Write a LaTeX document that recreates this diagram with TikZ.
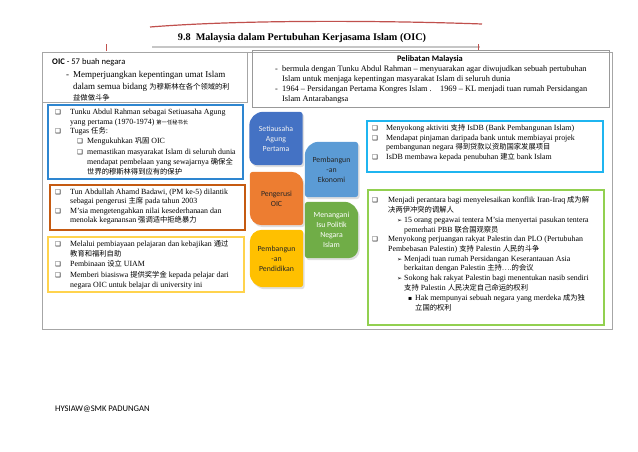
\documentclass[tikz,border=0pt]{standalone}
\usepackage{fontspec}
\setmainfont{Liberation Serif}
\setsansfont{Carlito}
\newfontfamily\zhfont{Noto Sans CJK SC}
\newfontfamily\symfont{DejaVu Sans}
\newcommand\zh[1]{{\zhfont\fontsize{7.3}{8}\selectfont #1}}
\newcommand\zhs[1]{{\zhfont\fontsize{5.3}{6}\selectfont #1}}
\usetikzlibrary{backgrounds,shadows}
\definecolor{cSec}{HTML}{4472C4}
\definecolor{cEko}{HTML}{5B9BD5}
\definecolor{cPen}{HTML}{ED7D31}
\definecolor{cPol}{HTML}{70AD47}
\definecolor{cEdu}{HTML}{FFC000}
\definecolor{bBlue}{HTML}{2E86D0}
\definecolor{bOrange}{HTML}{C55A11}
\definecolor{bYellow}{HTML}{FFD34D}
\definecolor{bCyan}{HTML}{1FB5F0}
\definecolor{bGreen}{HTML}{92D050}
\definecolor{fGray}{HTML}{A6A6A6}
\definecolor{tRed}{HTML}{C0504D}
\newcommand\leaffill[6]{\fill[#2, drop shadow={opacity=0.25,shadow xshift=1.5pt,shadow yshift=-2pt}] (#1.west) [rounded corners=#3] -- (#1.north west) -- (#1.north) [rounded corners=#4] -- (#1.north east) -- (#1.east) [rounded corners=#5] -- (#1.south east) -- (#1.south) [rounded corners=#6] -- (#1.south west) -- cycle;}
\begin{document}
\begin{tikzpicture}[x=1pt,y=-1pt,
  txt/.style={anchor=base west, inner sep=0pt, font=\fontsize{7.9}{9}\selectfont},
  bigtxt/.style={anchor=base west, inner sep=0pt, font=\fontsize{9}{10}\selectfont},
  peltxt/.style={anchor=base west, inner sep=0pt, font=\fontsize{8.3}{9}\selectfont},
  cbx/.style={anchor=base west, inner sep=0pt, font=\symfont\fontsize{6.5}{7}\selectfont},
  arrx/.style={anchor=base west, inner sep=0pt, font=\symfont\fontsize{6}{7}\selectfont},
  leaf/.style={minimum width=53pt, inner sep=1pt, align=center, font=\sffamily\fontsize{7.8}{10}\selectfont},
  frame/.style={draw=fGray, line width=0.9pt},
  boxline/.style={line width=1.4pt}]
\useasboundingbox (0,0) rectangle (638,451);

% title decoration
\draw[tRed, line width=1.2pt] (150,27) .. controls (250,19) and (400,21) .. (482,24);
\draw[gray!45, line width=2.5pt] (152,47) -- (480,47);
\draw[tRed, line width=1pt] (106,44) -- (106,51);
\draw[tRed, line width=1pt] (478,44) -- (478,51);
\node[anchor=base, inner sep=0pt, font=\bfseries\fontsize{10.2}{11}\selectfont] (title) at (302,40) {9.8\ \ Malaysia dalam Pertubuhan Kerjasama Islam (OIC)};

% frames
\draw[frame] (42,52) rectangle (612,329);
\draw[frame] (42,52) rectangle (247,102);
\draw[frame, draw=gray!80] (252,50) rectangle (609,107);
\draw[boxline, draw=bBlue] (48,105) rectangle (243,179);
\draw[boxline, draw=bOrange] (50,185) rectangle (245,230);
\draw[boxline, draw=bYellow] (48,237) rectangle (244,292);
\draw[boxline, draw=bCyan] (367,121) rectangle (603,172);
\draw[boxline, draw=bGreen] (368,190) rectangle (604,325);

% OIC box
\node[anchor=base west, inner sep=0pt, font=\sffamily\fontsize{8.6}{10}\selectfont] (oic) at (52,64) {\textbf{OIC} - 57 buah negara};
\node[bigtxt] (oicd) at (66,77) {-};
\node[bigtxt] (oic1) at (73,77) {Memperjuangkan kepentingan umat Islam};
\node[bigtxt] (oic2) at (73,89) {dalam semua bidang \zh{为穆斯林在各个领域的利}};
\node[bigtxt] (oic3) at (73,100) {\zh{益做做斗争}};

% Pelibatan
\node[anchor=base, inner sep=0pt, font=\sffamily\bfseries\fontsize{8.4}{10}\selectfont] (pelh) at (430,61) {Pelibatan Malaysia};
\node[peltxt] (peld1) at (275,71) {-};
\node[peltxt] (pel1) at (282,71) {bermula dengan Tunku Abdul Rahman – menyuarakan agar diwujudkan sebuah pertubuhan};
\node[peltxt] (pel2) at (282,81) {Islam untuk menjaga kepentingan masyarakat Islam di seluruh dunia};
\node[peltxt] (peld2) at (275,91) {-};
\node[peltxt] (pel3) at (282,91) {1964 – Persidangan Pertama Kongres Islam .\ \ \ \ 1969 – KL menjadi tuan rumah Persidangan};
\node[peltxt] (pel4) at (282,101) {Islam Antarabangsa};

% blue box
\node[cbx] (bc1) at (55,114) {❑};
\node[txt] (b1) at (70,114) {Tunku Abdul Rahman sebagai Setiuasaha Agung};
\node[txt] (b2) at (70,124) {yang pertama (1970-1974) \zhs{第一任秘书长}};
\node[cbx] (bc2) at (55,133.5) {❑};
\node[txt] (b3) at (70,133.5) {Tugas \zh{任务}:};
\node[cbx] (bc3) at (77,143) {❑};
\node[txt] (b4) at (87,143) {Mengukuhkan \zh{巩固} OIC};
\node[cbx] (bc4) at (77,154.5) {❑};
\node[txt] (b5) at (87,154.5) {memastikan masyarakat Islam di seluruh dunia};
\node[txt] (b6) at (87,164.5) {mendapat pembelaan yang sewajarnya \zh{确保全}};
\node[txt] (b7) at (87,174.5) {\zh{世界的穆斯林得到应有的保护}};

% orange box
\node[cbx] (oc1) at (55,194.5) {❑};
\node[txt] (o1) at (70,194.5) {Tun Abdullah Ahamd Badawi, (PM ke-5) dilantik};
\node[txt] (o2) at (70,203.5) {sebagai pengerusi \zh{主席} pada tahun 2003};
\node[cbx] (oc2) at (55,213.5) {❑};
\node[txt] (o3) at (70,213.5) {M’sia mengetengahkan nilai kesederhanaan dan};
\node[txt] (o4) at (70,222.5) {menolak keganansan \zh{强调适中拒绝暴力}};

% yellow box
\node[cbx] (yc1) at (55,246) {❑};
\node[txt] (y1) at (70,246) {Melalui pembiayaan pelajaran dan kebajikan \zh{通过}};
\node[txt] (y2) at (70,256) {\zh{教育和福利自助}};
\node[cbx] (yc2) at (55,266.5) {❑};
\node[txt] (y3) at (70,266.5) {Pembinaan \zh{设立} UIAM};
\node[cbx] (yc3) at (55,277) {❑};
\node[txt] (y4) at (70,277) {Memberi biasiswa \zh{提供奖学金} kepada pelajar dari};
\node[txt] (y5) at (70,287.5) {negara OIC untuk belajar di university ini};

% cyan box
\node[cbx] (cc1) at (372,130.5) {❑};
\node[txt] (c1) at (386,130.5) {Menyokong aktiviti \zh{支持} IsDB (Bank Pembangunan Islam)};
\node[cbx] (cc2) at (372,140.5) {❑};
\node[txt] (c2) at (386,140.5) {Mendapat pinjaman daripada bank untuk membiayai projek};
\node[txt] (c3) at (386,149.5) {pembangunan negara \zh{得到贷款以资助国家发展项目}};
\node[cbx] (cc3) at (372,159.5) {❑};
\node[txt] (c4) at (386,159.5) {IsDB membawa kepada penubuhan \zh{建立} bank Islam};

% green box
\node[cbx] (gc1) at (372,202.5) {❑};
\node[txt] (g1) at (388,202.5) {Menjadi perantara bagi menyelesaikan konflik Iran-Iraq \zh{成为解}};
\node[txt] (g2) at (388,212.5) {\zh{决两伊冲突的调解人}};
\node[arrx] (ga1) at (397,222.5) {➢};
\node[txt] (g3) at (404,222.5) {15 orang pegawai tentera M’sia menyertai pasukan tentera};
\node[txt] (g4) at (404,232) {pemerhati PBB \zh{联合国观察员}};
\node[cbx] (gc2) at (372,241.5) {❑};
\node[txt] (g5) at (388,241.5) {Menyokong perjuangan rakyat Palestin dan PLO (Pertubuhan};
\node[txt] (g6) at (388,251) {Pembebasan Palestin) \zh{支持} Palestin \zh{人民的斗争}};
\node[arrx] (ga2) at (397,261) {➢};
\node[txt] (g7) at (404,261) {Menjadi tuan rumah Persidangan Keserantauan Asia};
\node[txt] (g8) at (404,270.5) {berkaitan dengan Palestin \zh{主持….的会议}};
\node[arrx] (ga3) at (397,280.5) {➢};
\node[txt] (g9) at (404,280.5) {Sokong hak rakyat Palestin bagi menentukan nasib sendiri};
\node[txt] (g10) at (404,290.5) {\zh{支持} Palestin \zh{人民决定自己命运的权利}};
\node[arrx] (gb1) at (408,300.5) {▪};
\node[txt] (g11) at (415,300.5) {Hak mempunyai sebuah negara yang merdeka \zh{成为独}};
\node[txt] (g12) at (415,310.5) {\zh{立国的权利}};

% central leaf shapes
\node[leaf, minimum height=53pt, text=white!95!black] (sec) at (276,138.5) {Setiausaha\\Agung\\Pertama};
\node[leaf, minimum height=55pt, text=black!85] (eko) at (331.5,169.5) {Pembangun\\-an\\Ekonomi};
\node[leaf, minimum height=53pt, text=black!85] (pen) at (276.5,198.5) {Pengerusi\\OIC};
\node[leaf, minimum height=56pt, text=white] (pol) at (331.5,230) {Menangani\\Isu Politik\\Negara\\Islam};
\node[leaf, minimum height=57pt, text=black!85] (edu) at (276.5,258.5) {Pembangun\\-an\\Pendidikan};
\begin{scope}[on background layer]
\leaffill{sec}{cSec}{14pt}{3pt}{3pt}{8pt}
\leaffill{eko}{cEko}{14pt}{3pt}{3pt}{3pt}
\leaffill{pen}{cPen}{3pt}{12pt}{3pt}{12pt}
\leaffill{pol}{cPol}{3pt}{14pt}{10pt}{3pt}
\leaffill{edu}{cEdu}{12pt}{3pt}{3pt}{14pt}
\end{scope}

% footer
\node[anchor=base west, inner sep=0pt, font=\sffamily\fontsize{8.6}{10}\selectfont] (foot) at (55,411) {HYSIAW@SMK PADUNGAN};
\end{tikzpicture}
\end{document}
